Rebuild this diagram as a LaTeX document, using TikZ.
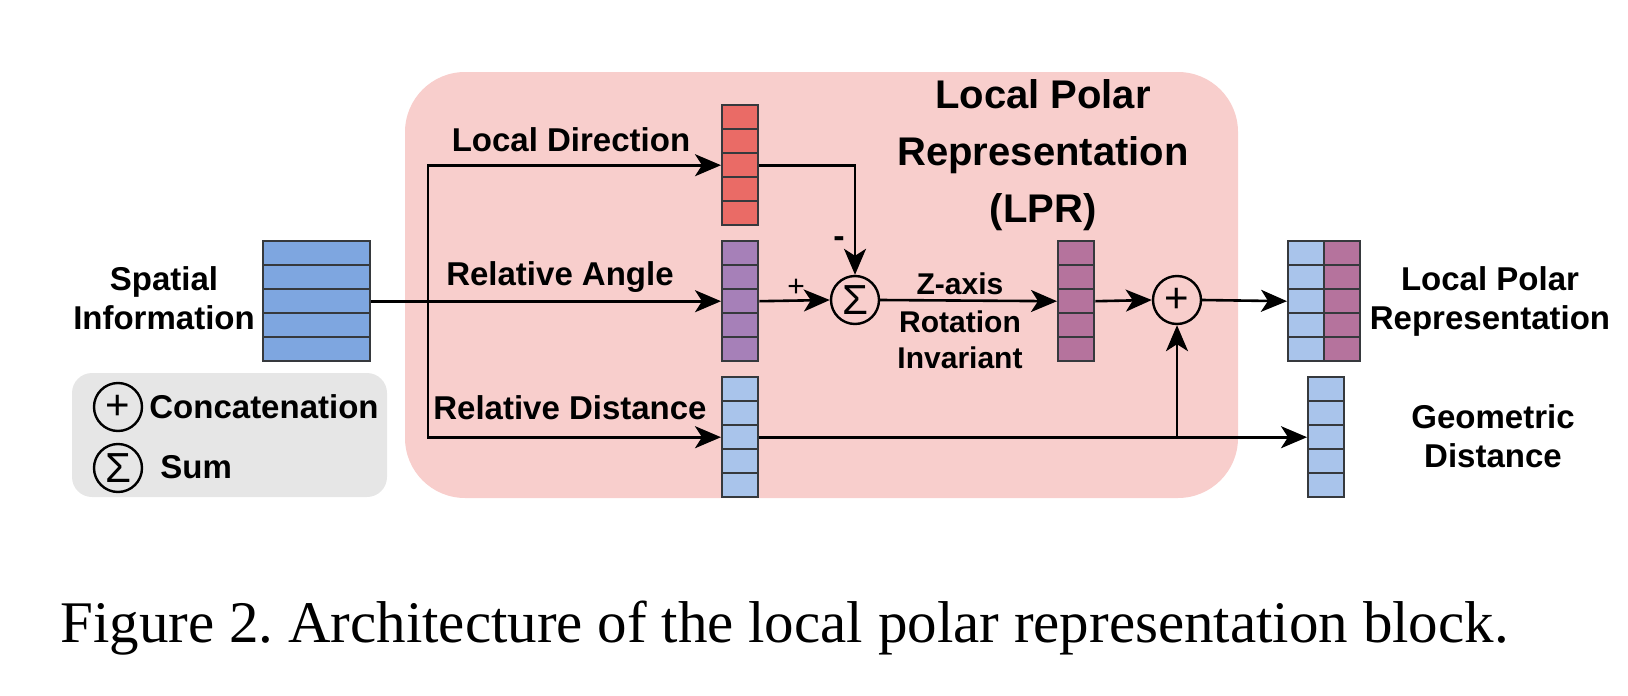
\documentclass[tikz,border=0pt]{standalone}
\usepackage{fontspec}
\setmainfont{Liberation Serif}
\setsansfont{Liberation Sans}
\usepackage{xcolor}
\usepackage{tikz}
\usetikzlibrary{positioning, arrows.meta, calc}

\definecolor{lprpink}{HTML}{F8CECC}
\definecolor{legendgray}{HTML}{E6E6E6}
\definecolor{spblue}{HTML}{7EA6E0}
\definecolor{dirred}{HTML}{EA6B66}
\definecolor{angpurple}{HTML}{A680B8}
\definecolor{distblue}{HTML}{A9C4EB}
\definecolor{lprplum}{HTML}{B5739D}
\definecolor{cellline}{HTML}{36393D}

\begin{document}
\begin{tikzpicture}[x=0.5pt, y=-0.5pt,
        % Style for one cell of a feature vector
        vcell/.style={
            draw=cellline,
            line width=1.2pt,
            minimum width=18pt,
            minimum height=12pt,
            inner sep=0pt,
            anchor=north west
        },
        % Style for the sum / concatenation circles
        opnode/.style={
            draw,
            circle,
            line width=1.2pt,
            minimum size=24pt,
            inner sep=0pt,
            font=\sffamily\fontsize{21}{21}\selectfont
        },
        % Style for the data flow arrows
        flow/.style={
            -{Stealth[length=13pt, width=11pt, inset=3.5pt]},
            line width=1.3pt
        },
        % Style for the bold labels
        lbl/.style={
            font=\sffamily\bfseries\fontsize{16.5}{19.5}\selectfont,
            align=center,
            inner sep=0pt
        }
    ]
    \useasboundingbox (0,0) rectangle (1628,696);

    % ==========================================
    % BACKGROUND PANELS
    % ==========================================
    \fill[lprpink, rounded corners=30pt] (405,72) rectangle (1238,498);
    \fill[legendgray, rounded corners=10pt] (72,373) rectangle (387,497);

    % ==========================================
    % FEATURE VECTORS
    % ==========================================
    \foreach \i in {0,...,4} {
        \node[vcell, fill=spblue, minimum width=53.5pt] (sp\i) at (262, {240+24*\i}) {};
        \node[vcell, fill=dirred] (ld\i) at (721, {104+24*\i}) {};
        \node[vcell, fill=angpurple] (ra\i) at (721, {240+24*\i}) {};
        \node[vcell, fill=distblue] (rd\i) at (721, {376+24*\i}) {};
        \node[vcell, fill=lprplum] (lp\i) at (1057, {240+24*\i}) {};
        \node[vcell, fill=distblue] (out\i) at (1287, {240+24*\i}) {};
        \node[vcell, fill=lprplum] (outb\i) at (1323, {240+24*\i}) {};
        \node[vcell, fill=distblue] (gd\i) at (1307, {376+24*\i}) {};
    }

    % Operators
    \node[opnode] (sum) at (855,300) {\raisebox{-2pt}{Σ}};
    \node[opnode] (cat) at (1177,300) {+};

    % ==========================================
    % CONNECTIONS
    % ==========================================
    \coordinate (split) at (428,300);
    \draw[flow] (sp2.east) -- (ra2.west);
    \draw[flow] (split) |- (ld2.west);
    \draw[flow] (split) |- (rd2.west);

    \draw[flow] (ld2.east) -| (sum.north);
    \draw[flow] (ra2.east) -- (sum.west);
    \draw[flow] (sum.east) -- (lp2.west);
    \draw[flow] (lp2.east) -- (cat.west);
    \draw[flow] (cat.east) -- (out2.west);
    \draw[flow] (rd2.east) -- (gd2.west);
    \coordinate (tap) at (cat |- rd2.east);
    \draw[flow] (tap) -- (cat.south);

    % Signs at the sum
    \node[font=\sffamily\fontsize{15}{15}\selectfont, inner sep=0pt] (plussign) at (796,288) {+};
    \node[font=\sffamily\bfseries\fontsize{17}{17}\selectfont, inner sep=0pt] (minussign) at (839,242) {-};

    % ==========================================
    % LABELS
    % ==========================================
    \node[lbl] (sptxt) at (164,298) {Spatial\\Information};
    \node[lbl] (ldtxt) at (571,140) {Local Direction};
    \node[lbl] (ratxt) at (560,277) {Relative Angle};
    \node[lbl] (rdtxt) at (570,408) {Relative Distance};
    \node[lbl, font=\sffamily\bfseries\fontsize{20}{28.5}\selectfont] (lprtxt) at (1043,155) {Local Polar\\Representation\\(LPR)};
    \node[lbl, font=\sffamily\bfseries\fontsize{15}{18}\selectfont] (zaxis) at (960,284) {Z-axis};
    \node[lbl, font=\sffamily\bfseries\fontsize{15}{18}\selectfont] (rotinv) at (960,340) {Rotation\\Invariant};
    \node[lbl] (outtxt) at (1490,301) {Local Polar\\Representation};
    \node[lbl] (gdtxt) at (1493,436) {Geometric\\Distance};

    % Legend
    \node[opnode] (lgcat) at (118,407) {+};
    \node[opnode] (lgsum) at (118,468) {\raisebox{-2pt}{Σ}};
    \node[lbl, anchor=west] (lgcattxt) at (149,407) {Concatenation};
    \node[lbl, anchor=west] (lgsumtxt) at (160,467) {Sum};

    % Caption
    \node[anchor=base west, inner sep=0pt, font=\fontsize{29.5}{32}\selectfont] (caption) at (60,642) {\frenchspacing Figure 2. Architecture of the local polar representation block.};
\end{tikzpicture}
\end{document}
